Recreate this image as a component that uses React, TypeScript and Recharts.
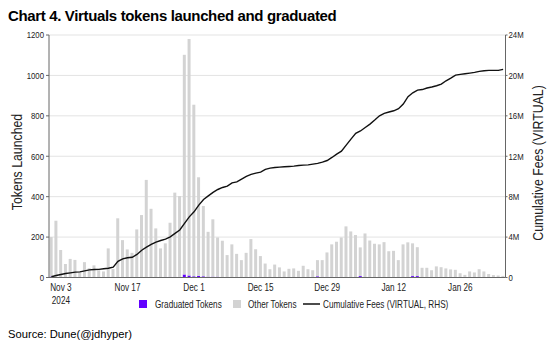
import React from "react";
import {
  ComposedChart,
  Bar,
  Line,
  XAxis,
  YAxis,
  CartesianGrid,
} from "recharts";

const dates: string[] = [
  "Nov 1","Nov 2","Nov 3","Nov 4","Nov 5","Nov 6","Nov 7","Nov 8","Nov 9","Nov 10",
  "Nov 11","Nov 12","Nov 13","Nov 14","Nov 15","Nov 16","Nov 17","Nov 18","Nov 19","Nov 20",
  "Nov 21","Nov 22","Nov 23","Nov 24","Nov 25","Nov 26","Nov 27","Nov 28","Nov 29","Nov 30",
  "Dec 1","Dec 2","Dec 3","Dec 4","Dec 5","Dec 6","Dec 7","Dec 8","Dec 9","Dec 10",
  "Dec 11","Dec 12","Dec 13","Dec 14","Dec 15","Dec 16","Dec 17","Dec 18","Dec 19","Dec 20",
  "Dec 21","Dec 22","Dec 23","Dec 24","Dec 25","Dec 26","Dec 27","Dec 28","Dec 29","Dec 30",
  "Dec 31","Jan 1","Jan 2","Jan 3","Jan 4","Jan 5","Jan 6","Jan 7","Jan 8","Jan 9",
  "Jan 10","Jan 11","Jan 12","Jan 13","Jan 14","Jan 15","Jan 16","Jan 17","Jan 18","Jan 19",
  "Jan 20","Jan 21","Jan 22","Jan 23","Jan 24","Jan 25","Jan 26","Jan 27","Jan 28","Jan 29",
  "Jan 30","Jan 31","Feb 1","Feb 2","Feb 3","Feb 4",
];

const graduatedTokens: number[] = [
  5, 2, 0, 0, 0, 0, 0, 0, 0, 0,
  0, 0, 0, 0, 0, 0, 0, 0, 2, 2,
  2, 2, 2, 0, 3, 3, 3, 3, 15, 10,
  6, 8, 6, 4, 4, 4, 0, 0, 2, 0,
  0, 0, 2, 0, 0, 2, 0, 0, 0, 0,
  0, 0, 0, 0, 0, 0, 6, 3, 3, 3,
  3, 3, 0, 0, 0, 7, 0, 2, 2, 2,
  2, 2, 0, 0, 2, 2, 7, 7, 0, 0,
  0, 0, 2, 2, 2, 2, 2, 0, 2, 0,
  0, 0, 0, 2, 0, 0,
];

const otherTokens: number[] = [
  195, 279, 136, 67, 92, 87, 25, 76, 46, 60,
  36, 30, 144, 42, 293, 185, 139, 122, 236, 307,
  481, 338, 241, 144, 166, 268, 417, 400, 1087, 1170,
  849, 488, 348, 222, 284, 194, 182, 111, 162, 117,
  86, 122, 188, 140, 106, 67, 41, 64, 50, 30,
  43, 45, 33, 58, 41, 36, 80, 83, 121, 161,
  174, 195, 253, 228, 210, 142, 218, 181, 165, 162,
  173, 128, 132, 86, 162, 172, 162, 143, 48, 48,
  36, 55, 49, 43, 38, 36, 19, 13, 28, 25,
  41, 30, 17, 10, 10, 8,
];

// cumulative fees, millions of VIRTUAL
const cumulativeFees: number[] = [
  0.07, 0.2, 0.3, 0.4, 0.46, 0.53, 0.56, 0.66, 0.76, 0.79,
  0.8, 0.86, 0.92, 1.02, 1.6, 1.85, 1.95, 2.0, 2.28, 2.7,
  3.0, 3.27, 3.5, 3.66, 3.8, 4.03, 4.36, 4.7, 5.35, 6.0,
  6.5, 7.16, 7.72, 8.08, 8.42, 8.71, 8.91, 9.04, 9.37, 9.47,
  9.74, 10.0, 10.2, 10.33, 10.43, 10.7, 10.82, 10.88, 10.92, 10.96,
  10.99, 11.02, 11.09, 11.12, 11.15, 11.22, 11.29, 11.42, 11.58, 11.88,
  12.21, 12.5, 13.1, 13.7, 14.26, 14.5, 14.85, 15.18, 15.58, 16.0,
  16.24, 16.38, 16.5, 16.7, 17.16, 17.9, 18.28, 18.55, 18.6, 18.75,
  18.85, 18.98, 19.14, 19.47, 19.74, 20.03, 20.1, 20.17, 20.23, 20.3,
  20.4, 20.46, 20.5, 20.5, 20.5, 20.6,
];

const xTicks: string[] = ["Nov 3", "Nov 17", "Dec 1", "Dec 15", "Dec 29", "Jan 12", "Jan 26"];
const leftTicks: number[] = [0, 200, 400, 600, 800, 1000, 1200];
const rightTicks: number[] = [0, 4, 8, 12, 16, 20, 24];

const title = "Chart 4. Virtuals tokens launched and graduated";
const leftTitle = "Tokens Launched";
const rightTitle = "Cumulative Fees (VIRTUAL)";
const legendLabels = ["Graduated Tokens", "Other Tokens", "Cumulative Fees (VIRTUAL, RHS)"];
const yearLabel = "2024";
const source = "Source: Dune(@jdhyper)";

const data = dates.map((d, i) => ({
  date: d,
  graduated: graduatedTokens[i],
  other: otherTokens[i],
  fees: cumulativeFees[i],
}));

const SANS = "'Liberation Sans', Arial, Helvetica, sans-serif";
const PURPLE = "#6200ff";
const GRAY = "#d3d3d3";
const TXT = "#222";
const SQ = 0.82; // horizontal squeeze to emulate a narrow face

const NText = (p: {
  x: number;
  y: number;
  size: number;
  anchor?: string;
  rotate?: boolean;
  children: React.ReactNode;
}) => (
  <text
    transform={`translate(${p.x},${p.y})${p.rotate ? " rotate(-90)" : ""} scale(${SQ},1)`}
    textAnchor={p.anchor || "start"}
    fontFamily={SANS}
    fontSize={p.size}
    fill={TXT}
  >
    {p.children}
  </text>
);

const XTick = (props: any) => {
  const { x, payload } = props;
  return (
    <g>
      <NText x={x} y={290.5} size={10} anchor="middle">
        {payload.value}
      </NText>
      {payload.value === xTicks[0] ? (
        <NText x={x} y={304} size={10} anchor="middle">
          {yearLabel}
        </NText>
      ) : null}
    </g>
  );
};

const LeftTick = (props: any) => {
  const { x, y, payload } = props;
  return (
    <NText x={x} y={y + 3.4} size={9.5} anchor="end">
      {payload.value}
    </NText>
  );
};

const RightTick = (props: any) => {
  const { x, y, payload } = props;
  const v = payload.value;
  return (
    <NText x={x} y={y + 3.4} size={9.5} anchor="start">
      {v === 0 ? "0" : `${v}M`}
    </NText>
  );
};

export default function App() {
  return (
    <div style={{ position: "absolute", left: 0, top: 0, width: 553, height: 352, background: "#fff" }}>
      <ComposedChart
        width={553}
        height={352}
        data={data}
        margin={{ top: 35, right: 0, left: 0, bottom: 44.5 }}
        barCategoryGap="14%"
      >
        <CartesianGrid yAxisId="left" vertical={false} stroke="#e3e3e3" strokeWidth={1} />
        <XAxis
          dataKey="date"
          ticks={xTicks}
          interval={0}
          height={30}
          tick={<XTick />}
          tickLine={false}
          axisLine={{ stroke: "#666" }}
        />
        <YAxis
          yAxisId="left"
          orientation="left"
          width={49}
          domain={[0, 1200]}
          ticks={leftTicks}
          tickSize={3}
          tickMargin={2}
          axisLine={{ stroke: "#666" }}
          tickLine={{ stroke: "#666" }}
          tick={<LeftTick />}
        />
        <YAxis
          yAxisId="right"
          orientation="right"
          width={47.5}
          domain={[0, 24]}
          ticks={rightTicks}
          tickSize={2}
          tickMargin={1}
          axisLine={{ stroke: "#666" }}
          tickLine={{ stroke: "#666" }}
          tick={<RightTick />}
        />
        <Bar yAxisId="left" dataKey="graduated" stackId="a" fill={PURPLE} isAnimationActive={false} />
        <Bar yAxisId="left" dataKey="other" stackId="a" fill={GRAY} isAnimationActive={false} />
        <Line
          yAxisId="right"
          dataKey="fees"
          type="linear"
          stroke="#111"
          strokeWidth={1.4}
          dot={false}
          isAnimationActive={false}
        />
      </ComposedChart>
      <svg
        width={553}
        height={352}
        style={{ position: "absolute", left: 0, top: 0, pointerEvents: "none" }}
      >
        <text x={8} y={21} fontFamily={SANS} fontWeight="bold" fontSize={15} letterSpacing={-0.35} fill="#000">
          {title}
        </text>
        <NText x={22} y={162} size={15} anchor="middle" rotate>
          {leftTitle}
        </NText>
        <NText x={543} y={163} size={15} anchor="middle" rotate>
          {rightTitle}
        </NText>
        <rect x={139} y={300} width={8} height={8} fill={PURPLE} />
        <NText x={155} y={307.5} size={10}>
          {legendLabels[0]}
        </NText>
        <rect x={233} y={300} width={8} height={8} fill={GRAY} />
        <NText x={248} y={307.5} size={10}>
          {legendLabels[1]}
        </NText>
        <line x1={303} x2={320} y1={304} y2={304} stroke="#111" strokeWidth={1.5} />
        <NText x={323} y={307.5} size={10}>
          {legendLabels[2]}
        </NText>
        <text x={8} y={338} fontFamily={SANS} fontSize={11.2} fill="#000">
          {source}
        </text>
      </svg>
    </div>
  );
}
